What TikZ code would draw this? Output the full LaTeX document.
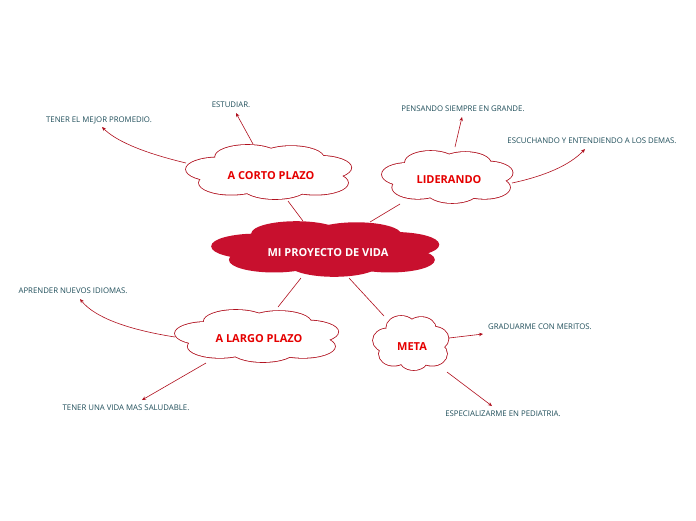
\documentclass[tikz,border=0pt]{standalone}
\usepackage{fontspec}
\setmainfont{Open Sans}
\usetikzlibrary{arrows.meta}
\definecolor{dred}{HTML}{B0101E}
\definecolor{crim}{HTML}{C8102E}
\definecolor{teal}{HTML}{1F4E5A}
\newcommand\cloudpuffs[5]{% x y w h fill, inside a path command
  \foreach \dx/\dy in {-0.3/0.05,-0.12/0.28,0.15/0.26,0.32/0.08,0.3/-0.2,0.05/-0.28,-0.22/-0.2}
    {#5 (#1+\dx*#3,#2+\dy*#4) ellipse [x radius=0.2*#3, y radius=0.22*#4];}
  #5 (#1,#2) ellipse [x radius=0.3*#3, y radius=0.3*#4];}
\newcommand\mycloud[6]{% x y w h fill draw
  \cloudpuffs{#1}{#2}{#3}{#4}{\path[draw=#6,line width=1.6pt]}
  \cloudpuffs{#1}{#2}{#3}{#4}{\path[fill=#5]}}
\tikzset{
 ctext/.style={text=red!90!black,font=\bfseries\fontsize{11}{13}\selectfont},
 lab/.style={text=teal,font=\fontsize{7.8}{9}\selectfont,inner sep=1pt},
 con/.style={draw=dred,line width=0.6pt},
 arr/.style={draw=dred,line width=0.6pt,-{Stealth[length=4pt,width=3.5pt]}}
}
\begin{document}
\begin{tikzpicture}[x=1pt,y=1pt]
\useasboundingbox[fill=white] (0,0) rectangle (696,-520);
\mycloud{323}{-249}{222}{54}{crim}{crim}
\mycloud{267}{-172}{162}{54}{white}{dred}
\mycloud{446}{-177}{128}{52}{white}{dred}
\mycloud{255}{-336}{160}{52}{white}{dred}
\mycloud{410}{-343}{74}{54}{white}{dred}
\node[text=white,font=\bfseries\fontsize{11}{13}\selectfont] (c) at (328,-253) {MI PROYECTO DE VIDA};
\node[ctext] (a) at (271,-176) {A CORTO PLAZO};
\node[ctext] (l) at (449,-180) {LIDERANDO};
\node[ctext] (b) at (259,-339) {A LARGO PLAZO};
\node[ctext] (m) at (412,-347) {META};
\node[lab] (t1) at (231,-105) {ESTUDIAR.};
\node[lab] (t2) at (99,-120) {TENER EL MEJOR PROMEDIO.};
\node[lab] (t3) at (463,-109) {PENSANDO SIEMPRE EN GRANDE.};
\node[lab] (t4) at (592,-141) {ESCUCHANDO Y ENTENDIENDO A LOS DEMAS.};
\node[lab] (t5) at (73,-291) {APRENDER NUEVOS IDIOMAS.};
\node[lab] (t6) at (126,-408) {TENER UNA VIDA MAS SALUDABLE.};
\node[lab] (t7) at (540,-327) {GRADUARME CON MERITOS.};
\node[lab] (t8) at (503,-414) {ESPECIALIZARME EN PEDIATRIA.};
\draw[con] (303,-221) -- (288,-201);
\draw[con] (370,-222) -- (400,-204);
\draw[con] (301,-278) -- (278,-307);
\draw[con] (349,-278) -- (384,-316);
\draw[arr] (253,-144) -- (236,-113);
\draw[arr] (186,-163) .. controls (140,-152) and (115,-140) .. (102,-127);
\draw[arr] (455,-147) -- (462,-117);
\draw[arr] (512,-183) .. controls (545,-176) and (570,-165) .. (585,-149);
\draw[arr] (175,-337) .. controls (130,-330) and (95,-318) .. (80,-299);
\draw[arr] (206,-363) -- (142,-400);
\draw[arr] (449,-338) -- (483,-334);
\draw[arr] (447,-372) -- (492,-406);
\end{tikzpicture}
\end{document}
